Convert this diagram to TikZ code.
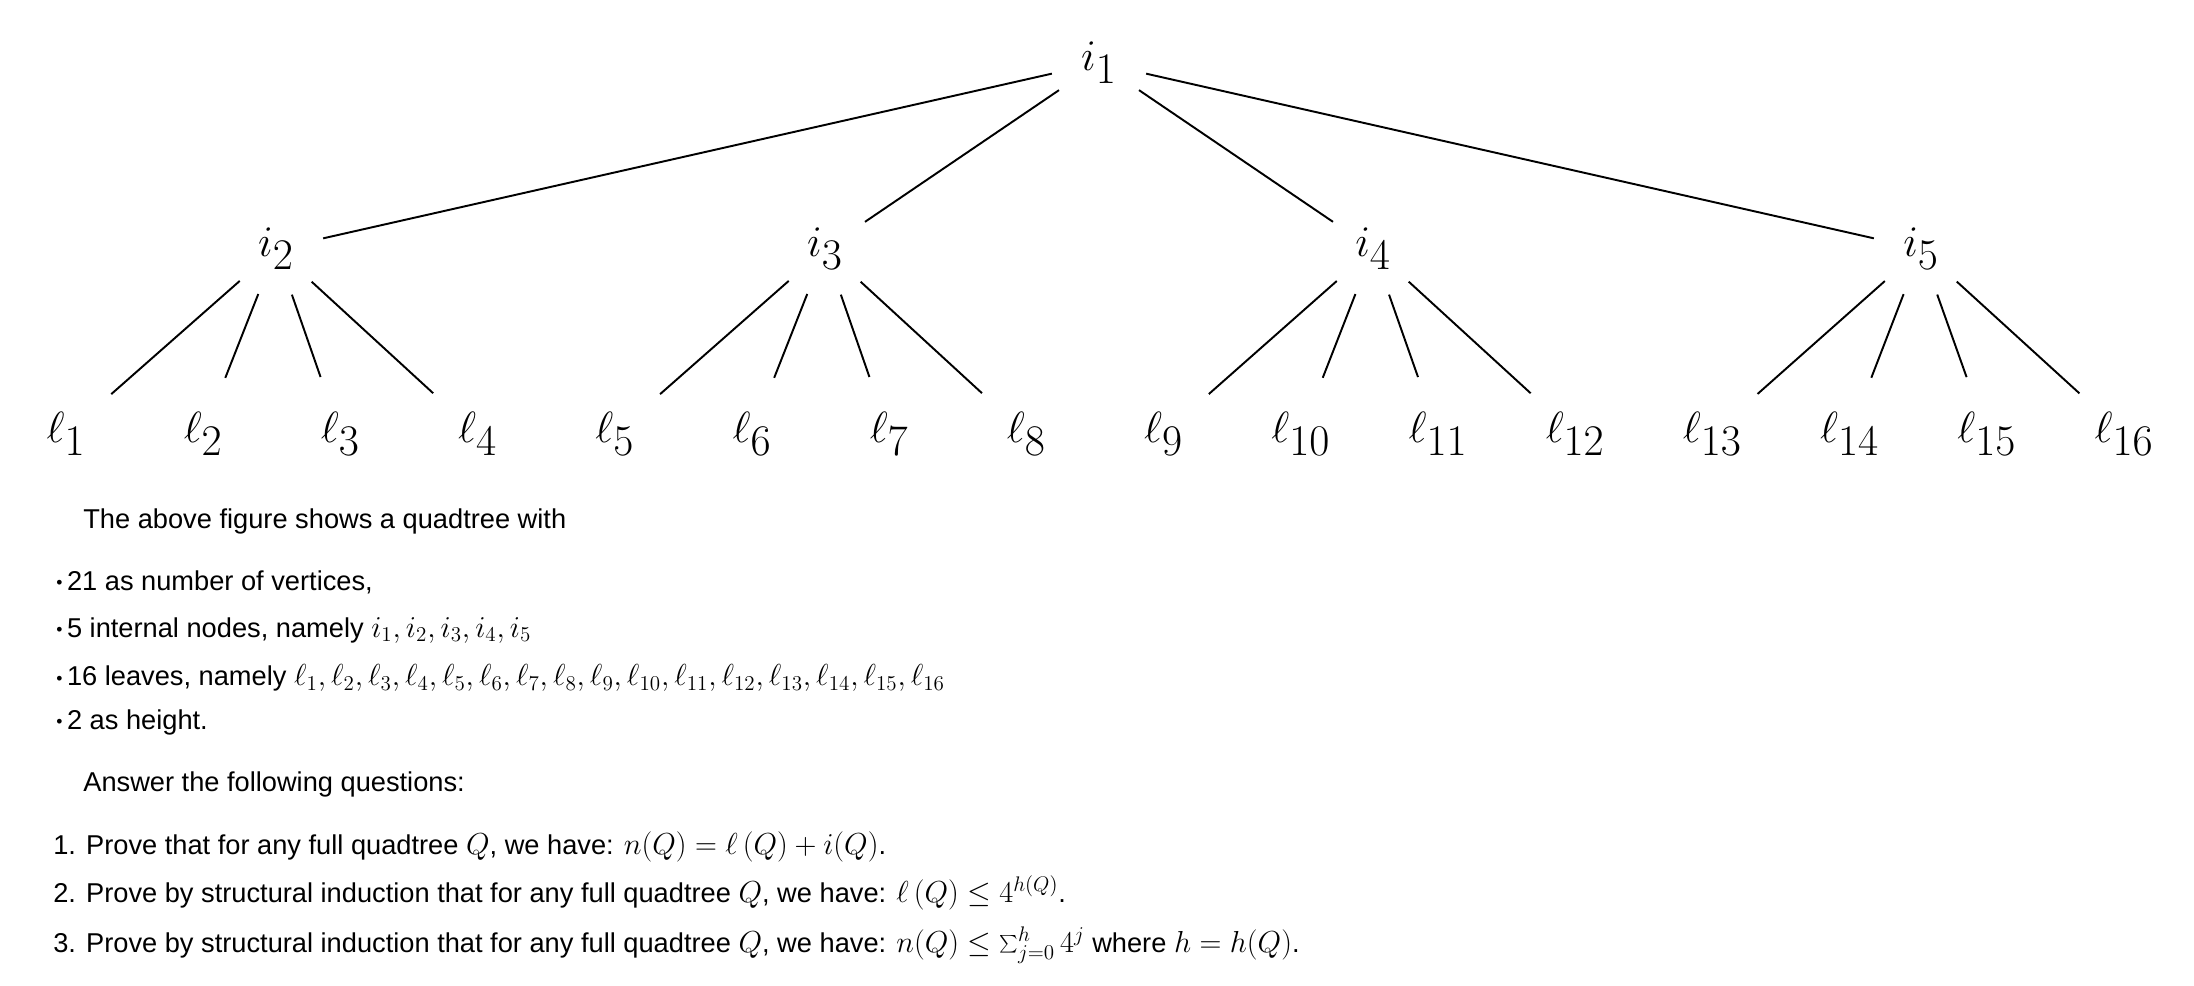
\documentclass[tikz,border=0pt]{standalone}
\usepackage{fontspec}
\setmainfont{Liberation Sans}
\DeclareMathSizes{15.5}{18}{12.5}{10}
\begin{document}
\begin{tikzpicture}[x=0.02cm,y=-0.02cm,
  inn/.style={circle,minimum size=96*0.02cm,inner sep=0pt,font=\fontsize{34}{40}\selectfont},
  leaf/.style={circle,minimum size=120*0.02cm,inner sep=0pt,font=\fontsize{34}{40}\selectfont},
  txt/.style={anchor=west,inner sep=0pt,font=\fontsize{15.5}{18}\selectfont},
  edge/.style={line width=1.1pt}]
\useasboundingbox (0,0) rectangle (2194,986);
\node[inn] (i1) at (1099,63) {$i_1$};
\node[inn] (i2) at (276,249) {$i_2$};
\node[inn] (i3) at (825,249) {$i_3$};
\node[inn] (i4) at (1373,249) {$i_4$};
\node[inn] (i5) at (1921,249) {$i_5$};
\foreach \k in {1,...,16}{
  \node[leaf] (l\k) at ({66+137.2*(\k-1)},434) {$\ell_{\k}$};
}
\foreach \j in {2,...,5} \draw[edge] (i1) -- (i\j);
\foreach \p/\a/\b/\c/\d in {2/1/2/3/4,3/5/6/7/8,4/9/10/11/12,5/13/14/15/16}{
  \draw[edge] (i\p) -- (l\a); \draw[edge] (i\p) -- (l\b);
  \draw[edge] (i\p) -- (l\c); \draw[edge] (i\p) -- (l\d);
}
\newcommand\bul{{\fontsize{10}{12}\selectfont\raisebox{0.15ex}{•}}\,}
\node[txt] (t0) at (83,521) {The above figure shows a quadtree with};
\node[txt] (t1) at (56,582) {\bul 21 as number of vertices,};
\node[txt] (t2) at (56,630) {\bul 5 internal nodes, namely $i_1,i_2,i_3,i_4,i_5$};
\node[txt] (t3) at (56,678) {\bul 16 leaves, namely $\ell_1,\ell_2,\ell_3,\ell_4,\ell_5,\ell_6,\ell_7,\ell_8,\ell_9,\ell_{10},\ell_{11},\ell_{12},\ell_{13},\ell_{14},\ell_{15},\ell_{16}$};
\node[txt] (t4) at (56,722) {\bul 2 as height.};
\node[txt] (t5) at (83,784) {Answer the following questions:};
\node[txt] (q1) at (53,847) {1. Prove that for any full quadtree $Q$, we have: $n(Q)=\ell\,(Q)+i(Q)$.};
\node[txt] (q2) at (53,893) {2. Prove by structural induction that for any full quadtree $Q$, we have: $\ell\,(Q)\leq 4^{h(Q)}$.};
\node[txt] (q3) at (53,945) {3. Prove by structural induction that for any full quadtree $Q$, we have: $n(Q)\leq \sum_{j=0}^{h}4^j$ where $h=h(Q)$.};
\end{tikzpicture}
\end{document}
